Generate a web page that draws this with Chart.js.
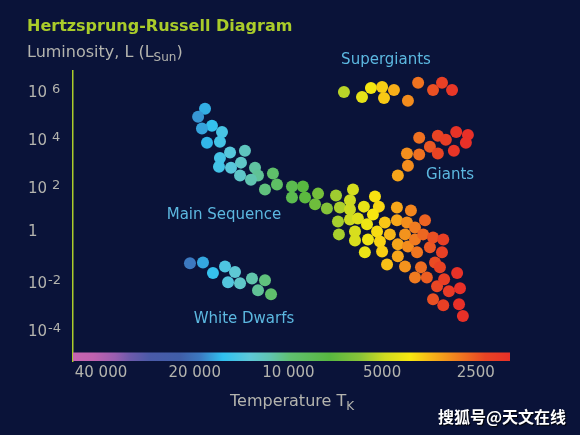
<!DOCTYPE html>
<html>
<head>
<meta charset="utf-8">
<script src="https://cdn.jsdelivr.net/npm/chart.js@4.4.1/dist/chart.umd.min.js"></script>
<style>
html,body{margin:0;padding:0;background:#0a1339;}
#wrap{width:580px;height:435px;position:relative;}
</style>
</head>
<body>
<div id="wrap"><canvas id="c" width="580" height="435"></canvas></div>
<script>
// ---- data (temperature in K, luminosity in L_sun) ----
const mainSeqTemp = [18530,19500,17600,18950,16340,18260,16590,15400,13790,16590,14200,16710,15290,14300,12800,12520,13190,11210,10880,11890,9740,8980,9740,8840,8030,8210,7520,7030,6200,6340,6830,6340,6930,6880,6340,5980,6110,6110,5720,5270,5120,5350,5590,5550,5680,5190,5080,5000,4900,4820,4720,4480,4480,4450,4450,4160,4220,4220,4040,3920,4130,3920,3860,3750,3640,3690,3920,3590,3510,3430,3330,3180,3210,3380,3260,3160,3050,2870,2810,3430,3180,2830,2750];
const mainSeqLum = [1.5e5,6.8e4,2.9e4,2.2e4,1.6e4,5600,6200,2200,2600,1300,830,560,510,240,510,240,160,290,100,62,83,83,29,29,42,15,10,35,62,22,11,9.1,2.9,0.83,3.5,3.8,1.1,0.46,12,32,12,5.6,2.2,0.51,0.15,1.1,0.42,0.16,2.6,0.046,0.83,11,3.2,0.32,0.1,2.6,0.83,0.038,8.3,1.6,0.26,0.51,0.15,0.035,3.2,0.83,0.013,0.013,0.24,0.62,0.0056,0.51,0.15,0.056,0.035,0.011,0.0035,0.020,0.0046,0.0016,0.00091,0.001,0.00032];
const superTemp = [6630,5800,5430,5000,4930,4580,4130,3830,3430,3210,2980];
const superLum = [7.5e5,4.6e5,1.1e6,1.2e6,4.2e5,9.1e5,3.2e5,1.8e6,9.1e5,1.8e6,9.1e5];
const giantTemp = [3800,3310,3120,2890,2650,2690,3510,2940,3310,4160,3800,4130,4450];
const giantLum = [9100,1.1e4,7500,1.6e4,1.2e4,5600,3800,2600,2000,2000,1800,620,240];
const dwarfTemp = [20710,18810,17470,15980,14840,15630,14300,13090,11890,12520,11370];
const dwarfLum = [0.051,0.056,0.020,0.038,0.022,0.0083,0.0075,0.012,0.01,0.0038,0.0026];

const xTickValues = [40000,20000,10000,5000,2500];
const xTickLabels = ['40 000','20 000','10 000','5000','2500'];
const yTickValues = [1e6,1e4,1e2,1,1e-2,1e-4];
const yTickBase = ['10','10','10','1','10','10'];
const yTickExp = ['6','4','2','','-2','-4'];

const groupLabels = ['Supergiants','Giants','Main Sequence','White Dwarfs'];

// ---- style ----
const BG = '#0a1339';
const TICK = '#b4b4ae';
const ACCENT = '#aacc2a';
const LABEL = '#5cb8e0';
const FONT = '"DejaVu Sans", sans-serif';
const stops = [[0,'#c864b0'],[0.046,'#c062b0'],[0.096,'#9a5eb0'],[0.13,'#6e5aac'],[0.176,'#4a5aa8'],[0.245,'#405ea8'],[0.29,'#3c78c0'],[0.343,'#30c0f0'],[0.405,'#5ec8d8'],[0.451,'#60c4b0'],[0.497,'#60c070'],[0.588,'#58b840'],[0.657,'#88c438'],[0.714,'#d0dc20'],[0.771,'#f8e810'],[0.817,'#f8b818'],[0.886,'#f07820'],[0.943,'#e84424'],[1,'#e83028']];

function hex(h){return [parseInt(h.slice(1,3),16),parseInt(h.slice(3,5),16),parseInt(h.slice(5,7),16)];}
function colorAt(f){
  f=Math.max(0,Math.min(1,f));
  for(let i=1;i<stops.length;i++){
    if(f<=stops[i][0]){
      const a=stops[i-1],b=stops[i];
      const t=(f-a[0])/(b[0]-a[0]);
      const ca=hex(a[1]),cb=hex(b[1]);
      const c=ca.map((v,k)=>Math.round(v+(cb[k]-v)*t));
      return 'rgb('+c.join(',')+')';
    }
  }
  return stops[stops.length-1][1];
}
function pointColor(ctx){
  const s=ctx.chart.scales.x;
  if(!s||!ctx.raw) return '#ffffff';
  const px=s.getPixelForValue(ctx.raw.x)-s.left;
  const eff=px+10+0.15*(px-117);
  return colorAt(eff/(s.right-s.left));
}
function pairs(t,l){return t.map((v,i)=>({x:v,y:l[i]}));}

function ds(t,l){
  return {data:pairs(t,l),backgroundColor:pointColor,borderWidth:0,pointRadius:6,pointHoverRadius:6};
}

const decor = {
  id:'decor',
  beforeDraw(chart){
    const c=chart.ctx;
    c.save();
    c.fillStyle=BG;
    c.fillRect(0,0,chart.width,chart.height);
    c.restore();
  },
  beforeDatasetsDraw(chart){
    const c=chart.ctx, a=chart.chartArea;
    const g=c.createLinearGradient(a.left,0,a.right,0);
    stops.forEach(s=>g.addColorStop(s[0],s[1]));
    c.save();
    c.fillStyle=g;
    c.fillRect(a.left,a.bottom-8.5,a.right-a.left,8.5);
    c.restore();
  },
  afterDraw(chart){
    const c=chart.ctx;
    c.save();
    c.textBaseline='alphabetic';
    // y tick labels with superscript exponents
    const ys=chart.scales.y;
    c.fillStyle=TICK;
    c.textAlign='left';
    yTickValues.forEach((v,i)=>{
      const py=ys.getPixelForValue(v);
      c.font='15px '+FONT;
      if(!yTickExp[i]){
        c.textBaseline='middle';
        c.fillText(yTickBase[i],28,py);
        return;
      }
      c.textBaseline='alphabetic';
      c.fillText(yTickBase[i],28,py+8);
      const w=c.measureText(yTickBase[i]).width;
      c.font='13px '+FONT;
      const neg=yTickExp[i].charAt(0)==='-';
      c.fillText(yTickExp[i],28+w+(neg?1:5),py+4);
    });
    c.textBaseline='alphabetic';
    // title
    c.fillStyle=ACCENT;
    c.font='bold 16px '+FONT;
    c.textAlign='left';
    c.fillText('Hertzsprung-Russell Diagram',27,31);
    // y axis title
    c.fillStyle=TICK;
    c.font='16px '+FONT;
    let s='Luminosity, L (L';
    c.fillText(s,27,57);
    let w=c.measureText(s).width;
    c.font='12px '+FONT;
    c.fillText('Sun',27+w,61);
    let w2=c.measureText('Sun').width;
    c.font='16px '+FONT;
    c.fillText(')',27+w+w2,57);
    // x axis title
    c.font='16px '+FONT;
    s='Temperature T';
    w=c.measureText(s).width;
    c.fillText(s,230,406);
    c.font='12px '+FONT;
    c.fillText('K',230+w,410);
    // group labels
    c.fillStyle=LABEL;
    c.font='15px '+FONT;
    c.textAlign='center';
    c.textBaseline='middle';
    c.fillText(groupLabels[0],386,60);
    c.fillText(groupLabels[1],450,175);
    c.fillText(groupLabels[2],224,215);
    c.fillText(groupLabels[3],244,319);
    // watermark
    c.font='bold 16px "Noto Sans CJK SC", sans-serif';
    c.textAlign='left';
    c.shadowColor='rgba(0,0,0,0.9)';
    c.shadowOffsetX=1;c.shadowOffsetY=1;c.shadowBlur=1;
    c.fillStyle='#ffffff';
    c.fillText('搜狐号@天文在线',438,417);
    c.restore();
  }
};

new Chart(document.getElementById('c'),{
  type:'scatter',
  data:{datasets:[
    ds(dwarfTemp,dwarfLum),
    ds(mainSeqTemp,mainSeqLum),
    ds(giantTemp,giantLum),
    ds(superTemp,superLum)
  ]},
  options:{
    responsive:false,
    animation:false,
    events:[],
    layout:{padding:{left:28,top:71,right:70,bottom:0}},
    plugins:{legend:{display:false},tooltip:{enabled:false}},
    scales:{
      x:{
        type:'logarithmic',reverse:true,min:1941,max:49200,
        grid:{display:false,drawTicks:false},
        border:{display:false},
        afterBuildTicks(sc){sc.ticks=xTickValues.map(v=>({value:v}));},
        afterFit(sc){sc.height=74;},
        ticks:{color:TICK,font:{family:FONT,size:15},padding:3,maxRotation:0,autoSkip:false,
          callback(v){const i=xTickValues.indexOf(v);return i>=0?xTickLabels[i]:'';}}
      },
      y:{
        type:'logarithmic',min:Math.pow(10,-5.375),max:Math.pow(10,6.75),
        grid:{display:false,drawTicks:false},
        border:{display:true,color:ACCENT,width:1.5},
        afterBuildTicks(sc){sc.ticks=yTickValues.map(v=>({value:v}));},
        afterFit(sc){sc.width=45;},
        ticks:{display:false}
      }
    }
  },
  plugins:[decor]
});
</script>
</body>
</html>
